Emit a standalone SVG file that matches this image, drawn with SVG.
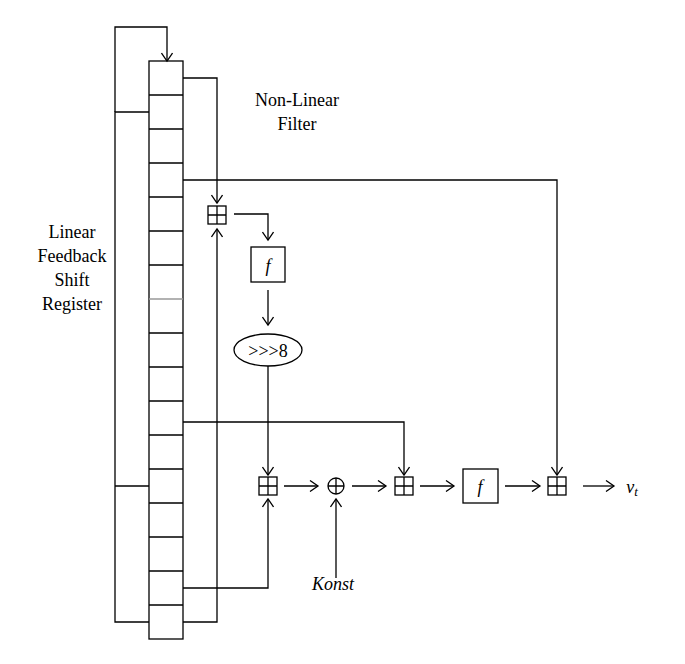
<svg xmlns="http://www.w3.org/2000/svg" width="685" height="664" viewBox="0 0 685 664">
<defs>
<marker id="a" markerWidth="12" markerHeight="12" refX="10" refY="6" orient="auto" markerUnits="userSpaceOnUse"><path d="M2,0.5 L10,6 L2,11.5" fill="none" stroke="#000" stroke-width="1.3"/></marker>
<symbol id="bp" viewBox="0 0 18 18" overflow="visible"><rect x="0" y="0" width="18" height="18" fill="#fff" stroke="#000" stroke-width="1.3"/><path d="M9,0V18M0,9H18" stroke="#000" stroke-width="1.3"/></symbol>
</defs>
<style>
.l{fill:none;stroke:#000;stroke-width:1.3}
.t{font-family:"Liberation Serif",serif;font-size:18px;fill:#000;text-anchor:middle}
</style>
<rect width="685" height="664" fill="#fff"/>
<g id="register">
<rect x="149" y="61" width="34" height="578" class="l"/>
<path class="l" d="M149,95H183M149,129H183M149,163H183M149,197H183M149,231H183M149,265H183M149,333H183M149,367H183M149,401H183M149,435H183M149,469H183M149,503H183M149,537H183M149,571H183M149,605H183"/>
<path d="M149,299H183" stroke="#999" stroke-width="1.3"/>
</g>
<g id="connectors" class="l">
<path d="M149,112H115V622H149"/>
<path d="M115,486H149"/>
<path d="M115,112V27H167V61" marker-end="url(#a)"/>
<path d="M183,78H217V203" marker-end="url(#a)"/>
<path d="M183,622H217V229" marker-end="url(#a)"/>
<path d="M234,214H268V240" marker-end="url(#a)"/>
<path d="M268,290V325" marker-end="url(#a)"/>
<path d="M268,366V475" marker-end="url(#a)"/>
<path d="M183,588H268V499" marker-end="url(#a)"/>
<path d="M183,180H557V475" marker-end="url(#a)"/>
<path d="M183,422H404V475" marker-end="url(#a)"/>
<path d="M284,486H318" marker-end="url(#a)"/>
<path d="M352,486H386" marker-end="url(#a)"/>
<path d="M420,486H454" marker-end="url(#a)"/>
<path d="M505,486H540" marker-end="url(#a)"/>
<path d="M583,486H614" marker-end="url(#a)"/>
<path d="M336,578V499" marker-end="url(#a)"/>
</g>
<g id="add1"><use href="#bp" x="208" y="206" width="18" height="18"/></g>
<g id="f1"><rect x="251" y="247" width="34" height="35" class="l"/><text class="t" x="268" y="272" font-style="italic">f</text></g>
<g id="rot"><ellipse cx="268" cy="350" rx="34" ry="16" class="l"/><text class="t" x="268" y="357">&gt;&gt;&gt;8</text></g>
<g id="add2"><use href="#bp" x="259" y="477" width="18" height="18"/></g>
<g id="xor"><circle cx="336" cy="486" r="8" class="l" stroke="#555"/><path class="l" d="M328,486H344M336,478V494"/></g>
<g id="add3"><use href="#bp" x="395" y="477" width="18" height="18"/></g>
<g id="f2"><rect x="463" y="469" width="35" height="34" class="l"/><text class="t" x="480" y="493" font-style="italic">f</text></g>
<g id="add4"><use href="#bp" x="548" y="477" width="18" height="18"/></g>
<g id="labels">
<text class="t" x="632" y="493" font-style="italic" font-size="20">v<tspan font-size="13" dy="3">t</tspan></text>
<text class="t" x="333" y="590" font-style="italic">Konst</text>
<text class="t" x="297" y="106">Non-Linear</text>
<text class="t" x="297" y="130">Filter</text>
<text class="t" x="72" y="238">Linear</text>
<text class="t" x="72" y="262">Feedback</text>
<text class="t" x="72" y="286">Shift</text>
<text class="t" x="72" y="310">Register</text>
</g>
</svg>
